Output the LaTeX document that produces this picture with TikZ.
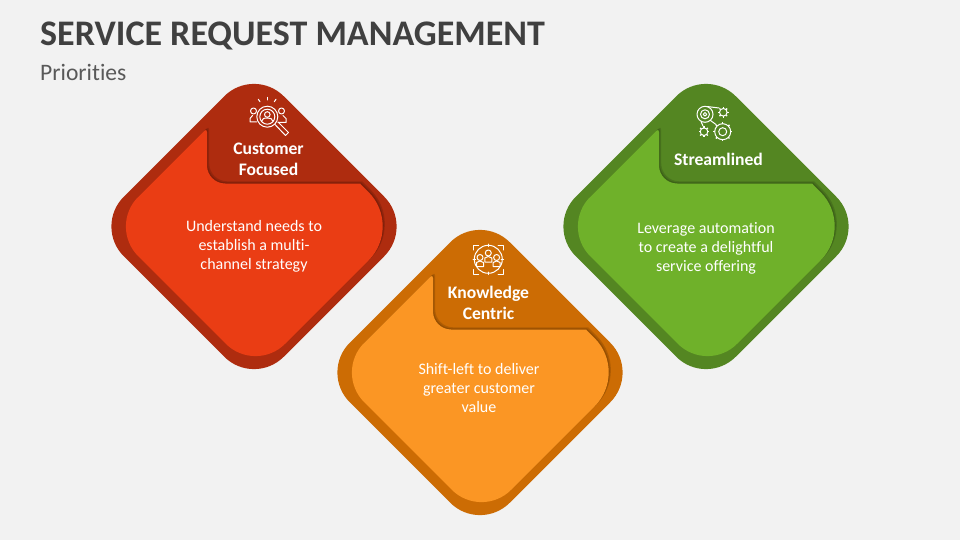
\documentclass[tikz,border=0pt]{standalone}
\usepackage{fontspec}
\setmainfont{Carlito}[Ligatures=NoCommon]
\definecolor{pagebg}{HTML}{F2F2F2}
\definecolor{titlegray}{HTML}{404040}
\definecolor{subgray}{HTML}{595959}
\definecolor{redouter}{HTML}{AE2C0F}
\definecolor{redinner}{HTML}{EA3D14}
\definecolor{orangeouter}{HTML}{CC6C04}
\definecolor{orangeinner}{HTML}{FB9624}
\definecolor{greenouter}{HTML}{548622}
\definecolor{greeninner}{HTML}{6FB12A}
\tikzset{
  head node/.style={text=white, align=center, font=\fontsize{17.6}{21}\selectfont\bfseries},
  body node/.style={text=white, align=center, font=\fontsize{16}{19}\selectfont},
  icon line/.style={draw=white, line width=1pt, line cap=round, line join=round},
}
% tile: centre x, centre y, outer colour, inner colour
\newcommand{\innerpath}{[rounded corners=48] (104.5,-43) -- (147,0) [rounded corners=42] -- (0,147) -- (-147,0) [rounded corners=4] -- (-48.5,-98.5) [rounded corners=18] -- (-48.5,-43) [sharp corners] -- cycle}
\newcommand{\tile}[4]{
  \begin{scope}[shift={(#1,#2)}]
    \fill[#3, rounded corners=42] (0,-160) -- (160,0) -- (0,160) -- (-160,0) -- cycle;
    \begin{scope}[shift={(1.5,0)}]
      \foreach \off in {2.2,1.1}
        \fill[black, opacity=0.14, shift={(\off,-\off)}] \innerpath;
      \fill[#4] \innerpath;
    \end{scope}
  \end{scope}
}
\newcommand{\gear}[3]{
  \draw[icon line] (#1,#2) circle (#3);
  \foreach \a in {0,45,...,315}
    \draw[icon line, line width=1.3pt, line cap=butt] ($(#1,#2)+(\a:#3)$) -- ($(#1,#2)+(\a:#3+1.6)$);
}
\usetikzlibrary{calc}
\begin{document}
\begin{tikzpicture}[x=1pt, y=-1pt]
  \useasboundingbox (0,0) rectangle (960,540);
  \fill[pagebg] (0,0) rectangle (960,540);

  \node[anchor=base west, inner sep=0, text=titlegray, font=\fontsize{36}{40}\selectfont\bfseries] (title) at (40,46) {SERVICE REQUEST MANAGEMENT};
  \node[anchor=base west, inner sep=0, text=subgray, font=\fontsize{23.6}{27}\selectfont] (subtitle) at (40,81) {Priorities};

  \tile{254}{226.5}{redouter}{redinner}
  \tile{706}{226.5}{greenouter}{greeninner}
  \tile{480}{372.5}{orangeouter}{orangeinner}

  \node[head node] (customer) at (268.5,159.5) {Customer\\Focused};
  \node[body node] (customer text) at (254,246) {Understand needs to\\establish a multi-\\channel strategy};

  \node[head node] (streamlined) at (718.5,159.5) {Streamlined};
  \node[body node] (streamlined text) at (706,248) {Leverage automation\\to create a delightful\\service offering};

  \node[head node] (knowledge) at (488.5,302.5) {Knowledge\\Centric};
  \node[body node] (knowledge text) at (479,388) {Shift-left to deliver\\greater customer\\value};

  % customer icon
  \draw[icon line] (267.3,116.7) circle (10.5);
  \draw[icon line] (267.3,116.7) circle (7.5);
  \draw[icon line] (267.3,114.5) circle (2.8);
  \draw[icon line] (261.5,121.5) .. controls (262,118.5) and (264,118) .. (267.3,118) .. controls (270.5,118) and (272.5,118.5) .. (273,121.5);
  \draw[icon line] (275,124.5) -- (285.5,135.5) -- (288.5,132.5) -- (278,122);
  \draw[icon line] (253.5,111) circle (3);
  \draw[icon line] (281.5,111) circle (3);
  \draw[icon line] (256.5,122) -- (250,122) -- (250,118.5) -- (252.5,115.5);
  \draw[icon line] (278,122.5) -- (286,122.5) -- (286,118.5) -- (283,115.5);
  \draw[icon line] (258.3,99.3) -- (260,101.7);
  \draw[icon line] (267.3,97.3) -- (267.3,100);
  \draw[icon line] (276,99.3) -- (274.3,101.7);

  % knowledge icon
  \draw[icon line] (488.3,259.3) circle (14);
  \foreach \a in {0,90,180,270}
    \draw[icon line] ($(488.3,259.3)+(\a:12.8)$) -- ($(488.3,259.3)+(\a:15.2)$);
  \draw[icon line] (473.5,250) -- (473.5,245) -- (478.5,245);
  \draw[icon line] (498,245) -- (503,245) -- (503,250);
  \draw[icon line] (473.5,269.5) -- (473.5,274.5) -- (478.5,274.5);
  \draw[icon line] (498,274.5) -- (503,274.5) -- (503,269.5);
  \foreach \px/\py in {480/257.5, 488.3/253, 496.6/257.5} {
    \draw[icon line] (\px,\py) circle (3);
    \draw[icon line] (\px-3.5,\py+9) -- (\px-3.5,\py+5) -- (\px,\py+3.5) -- (\px+3.5,\py+5) -- (\px+3.5,\py+9) -- cycle;
  }

  % streamlined icon
  \draw[icon line] (705,114.3) circle (8);
  \draw[icon line] (705,114.3) circle (4.5);
  \draw[icon line] (705,114.3) circle (1.8);
  \gear{723.3}{112.3}{3.8}
  \gear{704}{131.7}{3.8}
  \gear{722.7}{131.7}{8}
  \draw[icon line] (722.7,131.7) circle (4);
  \draw[icon line] (707,106.5) -- (719,108);
  \draw[icon line] (710.5,120.5) -- (716,124.5);
  \draw[icon line] (701,121.5) -- (703,126);
\end{tikzpicture}
\end{document}
